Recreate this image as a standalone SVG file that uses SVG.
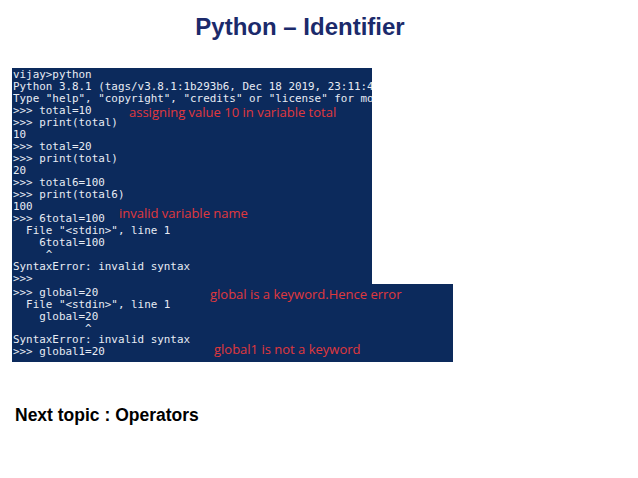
<svg xmlns="http://www.w3.org/2000/svg" width="638" height="478" viewBox="0 0 638 478">
<style>
.t{font-family:"DejaVu Sans Mono","Liberation Mono",monospace;font-size:10.9px;fill:#e8ecf4;white-space:pre}
.r{font-family:"Open Sans","Liberation Sans",sans-serif;font-size:13px;fill:#e0383c}
</style>
<defs><clipPath id="c1"><rect x="12" y="68" width="360" height="216"/></clipPath></defs>
<rect width="638" height="478" fill="#fff"/>
<text x="300" y="35" text-anchor="middle" font-family="Liberation Sans,Arial,sans-serif" font-weight="bold" font-size="24" fill="#1b2a6b">Python – Identifier</text>
<g id="console1">
<rect x="12" y="68" width="360" height="216" fill="#0c2a5c"/>
<g clip-path="url(#c1)">
<text class="t" x="13" y="78">vijay&gt;python</text>
<text class="t" x="13" y="90">Python 3.8.1 (tags/v3.8.1:1b293b6, Dec 18 2019, 23:11:4</text>
<text class="t" x="13" y="102">Type "help", "copyright", "credits" or "license" for mo</text>
<text class="t" x="13" y="114">&gt;&gt;&gt; total=10</text>
<text class="t" x="13" y="126">&gt;&gt;&gt; print(total)</text>
<text class="t" x="13" y="138">10</text>
<text class="t" x="13" y="150">&gt;&gt;&gt; total=20</text>
<text class="t" x="13" y="162">&gt;&gt;&gt; print(total)</text>
<text class="t" x="13" y="174">20</text>
<text class="t" x="13" y="186">&gt;&gt;&gt; total6=100</text>
<text class="t" x="13" y="198">&gt;&gt;&gt; print(total6)</text>
<text class="t" x="13" y="210">100</text>
<text class="t" x="13" y="222">&gt;&gt;&gt; 6total=100</text>
<text class="t" x="13" y="234">  File "&lt;stdin&gt;", line 1</text>
<text class="t" x="13" y="246">    6total=100</text>
<text class="t" x="13" y="258">     ^</text>
<text class="t" x="13" y="270">SyntaxError: invalid syntax</text>
<text class="t" x="13" y="282">&gt;&gt;&gt;</text>
</g>
<text class="r" x="129" y="117">assigning value 10 in variable total</text>
<text class="r" x="119" y="218">invalid variable name</text>
</g>
<g id="console2">
<rect x="12" y="284" width="441" height="78" fill="#0c2a5c"/>
<text class="t" x="13" y="296">&gt;&gt;&gt; global=20</text>
<text class="t" x="13" y="308">  File "&lt;stdin&gt;", line 1</text>
<text class="t" x="13" y="320">    global=20</text>
<text class="t" x="13" y="332">           ^</text>
<text class="t" x="13" y="343">SyntaxError: invalid syntax</text>
<text class="t" x="13" y="355">&gt;&gt;&gt; global1=20</text>
<text class="r" x="210" y="299">global is a keyword.Hence error</text>
<text class="r" x="214" y="354">global1 is not a keyword</text>
</g>
<text x="15" y="421" font-family="Liberation Sans,Arial,sans-serif" font-weight="bold" font-size="17.5" fill="#000">Next topic : Operators</text>
</svg>
